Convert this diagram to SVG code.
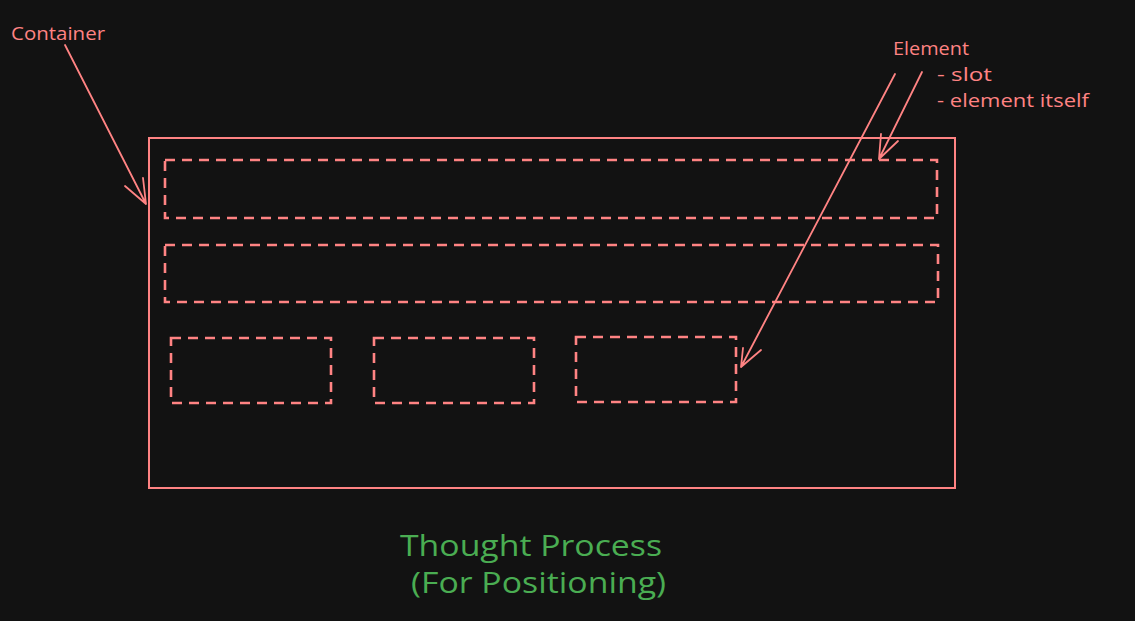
<svg xmlns="http://www.w3.org/2000/svg" width="1135" height="621" viewBox="0 0 1135 621">
<style>
.box{fill:none;stroke:#ff8383;stroke-width:2}
.dash{fill:none;stroke:#ff8383;stroke-width:2.6;stroke-dasharray:10 7}
.ln{fill:none;stroke:#ff8383;stroke-width:1.8;stroke-linecap:round;stroke-linejoin:round}
.lbl{font-family:"Open Sans","Liberation Sans",sans-serif;font-size:18px;fill:#ff8383}
.ttl{font-family:"Open Sans","Liberation Sans",sans-serif;font-size:29px;fill:#4aad52}
</style>
<rect width="1135" height="621" fill="#121212"/>
<g id="container"><rect class="box" x="149" y="138" width="806" height="350"/></g>
<g id="slot1"><rect class="dash" x="165" y="160" width="772" height="58"/></g>
<g id="slot2"><rect class="dash" x="165" y="245" width="773" height="57"/></g>
<g id="el1"><rect class="dash" x="171" y="338" width="160" height="65"/></g>
<g id="el2"><rect class="dash" x="374" y="338" width="160" height="65"/></g>
<g id="el3"><rect class="dash" x="576" y="337" width="160" height="65"/></g>
<g id="connectors">
<path class="ln" d="M65 45 L146 204 M125 186 L146 204 L143 178"/>
<path class="ln" d="M922 72 L879 159 M881 134 L879 159 L898 141"/>
<path class="ln" d="M895 74 L741 367 M743 348 L741 367 L761 350"/>
</g>
<g id="labels">
<text class="lbl" x="11" y="40" textLength="94" lengthAdjust="spacingAndGlyphs">Container</text>
<text class="lbl" x="893" y="55" textLength="76" lengthAdjust="spacingAndGlyphs">Element</text>
<text class="lbl" x="937" y="81" textLength="55" lengthAdjust="spacingAndGlyphs">- slot</text>
<text class="lbl" x="937" y="107" textLength="152" lengthAdjust="spacingAndGlyphs">- element itself</text>
<text class="ttl" x="400" y="556" textLength="262" lengthAdjust="spacingAndGlyphs">Thought Process</text>
<text class="ttl" x="411" y="593" textLength="255" lengthAdjust="spacingAndGlyphs">(For Positioning)</text>
</g>
</svg>
